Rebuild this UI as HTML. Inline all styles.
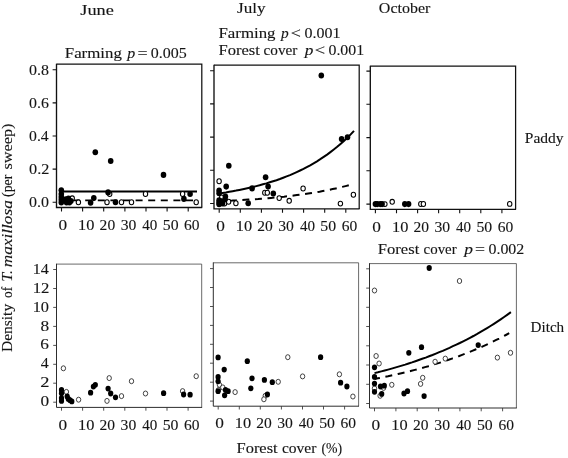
<!DOCTYPE html>
<html lang="en"><head><meta charset="utf-8"><title>Density of T. maxillosa vs forest cover</title>
<style>html,body{margin:0;padding:0;background:#fff;}svg{display:block;}text{font-family:"Liberation Serif", "DejaVu Serif", serif;font-size:14.6px;fill:#151515;stroke:#151515;stroke-width:0.12px;}</style></head><body>
<svg width="568" height="458" viewBox="0 0 568 458">
<rect width="568" height="458" fill="#fff"/>
<path d="M56.5,64.1 H201.8 V207.5" fill="none" stroke="#111" stroke-width="1.25"/>
<path d="M56.5,63.699999999999996 V207.5 H202.20000000000002" fill="none" stroke="#111" stroke-width="1.35"/>
<path d="M61.5,207.5 v3.9 M82.6,207.5 v3.9 M103.7,207.5 v3.9 M124.9,207.5 v3.9 M146.0,207.5 v3.9 M167.1,207.5 v3.9 M188.2,207.5 v3.9 M56.5,202.2 h-3.9 M56.5,169.1 h-3.9 M56.5,136.0 h-3.9 M56.5,102.9 h-3.9 M56.5,69.8 h-3.9 " fill="none" stroke="#111" stroke-width="1.1"/>
<path d="M214.0,65.2 H359.2 V208.9" fill="none" stroke="#111" stroke-width="1.25"/>
<path d="M214.0,64.8 V208.9 H359.59999999999997" fill="none" stroke="#111" stroke-width="1.35"/>
<path d="M219.2,208.9 v3.9 M240.3,208.9 v3.9 M261.4,208.9 v3.9 M282.5,208.9 v3.9 M303.6,208.9 v3.9 M324.7,208.9 v3.9 M345.8,208.9 v3.9 M214.0,203.5 h-3.9 M214.0,170.3 h-3.9 M214.0,137.1 h-3.9 M214.0,103.9 h-3.9 M214.0,70.7 h-3.9 " fill="none" stroke="#111" stroke-width="1.1"/>
<path d="M370.3,66.2 H515.6 V209.4" fill="none" stroke="#111" stroke-width="1.25"/>
<path d="M370.3,65.8 V209.4 H516.0" fill="none" stroke="#111" stroke-width="1.35"/>
<path d="M375.4,209.4 v3.9 M396.5,209.4 v3.9 M417.6,209.4 v3.9 M438.6,209.4 v3.9 M459.7,209.4 v3.9 M480.8,209.4 v3.9 M501.9,209.4 v3.9 M370.3,204.1 h-3.9 M370.3,170.8 h-3.9 M370.3,137.6 h-3.9 M370.3,104.3 h-3.9 M370.3,71.1 h-3.9 " fill="none" stroke="#111" stroke-width="1.1"/>
<path d="M56.5,264.1 H201.7 V407.4" fill="none" stroke="#444" stroke-width="0.8"/>
<path d="M56.5,263.70000000000005 V407.4 H202.1" fill="none" stroke="#222" stroke-width="0.95"/>
<path d="M61.5,407.4 v3.3 M82.6,407.4 v3.3 M103.7,407.4 v3.3 M124.8,407.4 v3.3 M145.9,407.4 v3.3 M167.0,407.4 v3.3 M188.1,407.4 v3.3 M56.5,402.2 h-3.3 M56.5,383.2 h-3.3 M56.5,364.3 h-3.3 M56.5,345.4 h-3.3 M56.5,326.4 h-3.3 M56.5,307.4 h-3.3 M56.5,288.5 h-3.3 M56.5,269.5 h-3.3 " fill="none" stroke="#333" stroke-width="0.85"/>
<path d="M213.3,262.8 H358.6 V406.2" fill="none" stroke="#444" stroke-width="0.8"/>
<path d="M213.3,262.40000000000003 V406.2 H359.0" fill="none" stroke="#222" stroke-width="0.95"/>
<path d="M218.2,406.2 v3.3 M239.3,406.2 v3.3 M260.3,406.2 v3.3 M281.4,406.2 v3.3 M302.5,406.2 v3.3 M323.5,406.2 v3.3 M344.6,406.2 v3.3 M213.3,401.1 h-3.3 M213.3,382.2 h-3.3 M213.3,363.2 h-3.3 M213.3,344.3 h-3.3 M213.3,325.4 h-3.3 M213.3,306.5 h-3.3 M213.3,287.5 h-3.3 M213.3,268.6 h-3.3 " fill="none" stroke="#333" stroke-width="0.85"/>
<path d="M369.5,263.6 H516.4 V408.0" fill="none" stroke="#444" stroke-width="0.8"/>
<path d="M369.5,263.20000000000005 V408.0 H516.8" fill="none" stroke="#222" stroke-width="0.95"/>
<path d="M374.5,408.0 v3.3 M395.9,408.0 v3.3 M417.2,408.0 v3.3 M438.6,408.0 v3.3 M459.9,408.0 v3.3 M481.2,408.0 v3.3 M502.6,408.0 v3.3 M369.5,403.5 h-3.3 M369.5,384.3 h-3.3 M369.5,365.0 h-3.3 M369.5,345.8 h-3.3 M369.5,326.5 h-3.3 M369.5,307.3 h-3.3 M369.5,288.1 h-3.3 M369.5,268.8 h-3.3 " fill="none" stroke="#333" stroke-width="0.85"/>
<text transform="translate(80.33,14.80) scale(1.253,1)">June</text>
<text transform="translate(237.06,12.70) scale(1.173,1)">July</text>
<text transform="translate(378.86,13.10) scale(1.096,1)">October</text>
<text transform="translate(64.75,58.40) scale(1.156,1)">Farming</text>
<text transform="translate(127.26,58.40) scale(1.092,1)" font-style="italic">p</text>
<text transform="translate(137.46,58.40) scale(1.230,1)">=</text>
<text transform="translate(150.77,58.40) scale(1.095,1)">0.005</text>
<text transform="translate(218.45,38.30) scale(1.154,1)">Farming</text>
<text transform="translate(281.12,38.30) scale(1.053,1)" font-style="italic">p</text>
<text transform="translate(290.76,38.30) scale(1.230,1)">&lt;</text>
<text transform="translate(304.47,38.30) scale(1.096,1)">0.001</text>
<text transform="translate(218.46,54.70) scale(1.135,1)">Forest</text>
<text transform="translate(263.49,54.70) scale(1.046,1)">cover</text>
<text transform="translate(304.64,54.70) scale(1.182,1)" font-style="italic">p</text>
<text transform="translate(314.74,54.70) scale(1.259,1)">&lt;</text>
<text transform="translate(328.47,54.70) scale(1.086,1)">0.001</text>
<text transform="translate(377.86,253.60) scale(1.135,1)">Forest</text>
<text transform="translate(423.60,253.60) scale(1.021,1)">cover</text>
<text transform="translate(464.25,253.60) scale(1.194,1)" font-style="italic">p</text>
<text transform="translate(475.07,253.60) scale(1.216,1)">=</text>
<text transform="translate(488.47,253.60) scale(1.092,1)">0.002</text>
<text transform="translate(524.87,143.40) scale(1.061,1)" font-size="15.2">Paddy</text>
<text transform="translate(530.58,331.80) scale(1.037,1)" font-size="15.2">Ditch</text>
<text transform="translate(236.56,452.90) scale(1.126,1)">Forest</text>
<text transform="translate(281.88,452.90) scale(1.065,1)">cover</text>
<text transform="translate(321.45,452.90) scale(0.946,1)">(%)</text>
<text transform="translate(11.90,351.91) rotate(-90) scale(1.059,1)">Density</text>
<text transform="translate(11.90,297.95) rotate(-90) scale(0.925,1)">of</text>
<text transform="translate(11.90,281.76) rotate(-90) scale(1.095,1)" font-style="italic">T.</text>
<text transform="translate(11.90,267.17) rotate(-90) scale(1.179,1)" font-style="italic">maxillosa</text>
<text transform="translate(11.90,196.95) rotate(-90) scale(0.946,1)">(per</text>
<text transform="translate(11.90,169.55) rotate(-90) scale(1.115,1)">sweep)</text>
<text transform="translate(58.47,230.40) scale(1.185,1)">0</text>
<text transform="translate(78.10,230.40) scale(1.121,1)">10</text>
<text transform="translate(99.62,230.40) scale(1.064,1)">20</text>
<text transform="translate(120.63,230.40) scale(1.072,1)">30</text>
<text transform="translate(142.28,230.40) scale(1.035,1)">40</text>
<text transform="translate(162.76,230.40) scale(1.080,1)">50</text>
<text transform="translate(184.10,230.40) scale(1.064,1)">60</text>
<text transform="translate(29.07,207.00) scale(1.094,1)">0.0</text>
<text transform="translate(29.06,173.90) scale(1.113,1)">0.2</text>
<text transform="translate(29.08,140.80) scale(1.076,1)">0.4</text>
<text transform="translate(29.07,107.70) scale(1.088,1)">0.6</text>
<text transform="translate(29.07,74.60) scale(1.094,1)">0.8</text>
<text transform="translate(216.17,231.30) scale(1.185,1)">0</text>
<text transform="translate(235.78,231.30) scale(1.121,1)">10</text>
<text transform="translate(257.28,231.30) scale(1.064,1)">20</text>
<text transform="translate(278.27,231.30) scale(1.072,1)">30</text>
<text transform="translate(299.90,231.30) scale(1.035,1)">40</text>
<text transform="translate(320.36,231.30) scale(1.080,1)">50</text>
<text transform="translate(341.68,231.30) scale(1.064,1)">60</text>
<text transform="translate(372.37,231.60) scale(1.185,1)">0</text>
<text transform="translate(391.96,231.60) scale(1.121,1)">10</text>
<text transform="translate(413.44,231.60) scale(1.064,1)">20</text>
<text transform="translate(434.41,231.60) scale(1.072,1)">30</text>
<text transform="translate(456.02,231.60) scale(1.035,1)">40</text>
<text transform="translate(476.46,231.60) scale(1.080,1)">50</text>
<text transform="translate(497.76,231.60) scale(1.064,1)">60</text>
<text transform="translate(58.47,429.60) scale(1.185,1)">0</text>
<text transform="translate(78.08,429.60) scale(1.121,1)">10</text>
<text transform="translate(99.58,429.60) scale(1.064,1)">20</text>
<text transform="translate(120.57,429.60) scale(1.072,1)">30</text>
<text transform="translate(142.20,429.60) scale(1.035,1)">40</text>
<text transform="translate(162.66,429.60) scale(1.080,1)">50</text>
<text transform="translate(183.98,429.60) scale(1.064,1)">60</text>
<text transform="translate(40.42,406.30) scale(1.185,1)">0</text>
<text transform="translate(40.26,387.35) scale(1.263,1)">2</text>
<text transform="translate(40.79,368.40) scale(1.085,1)">4</text>
<text transform="translate(40.31,349.45) scale(1.185,1)">6</text>
<text transform="translate(40.42,330.50) scale(1.185,1)">8</text>
<text transform="translate(32.68,311.55) scale(1.121,1)">10</text>
<text transform="translate(32.65,292.60) scale(1.147,1)">12</text>
<text transform="translate(32.71,273.65) scale(1.096,1)">14</text>
<text transform="translate(215.17,428.20) scale(1.185,1)">0</text>
<text transform="translate(234.75,428.20) scale(1.121,1)">10</text>
<text transform="translate(256.22,428.20) scale(1.064,1)">20</text>
<text transform="translate(277.18,428.20) scale(1.072,1)">30</text>
<text transform="translate(298.78,428.20) scale(1.035,1)">40</text>
<text transform="translate(319.21,428.20) scale(1.080,1)">50</text>
<text transform="translate(340.50,428.20) scale(1.064,1)">60</text>
<text transform="translate(371.47,430.40) scale(1.185,1)">0</text>
<text transform="translate(391.33,430.40) scale(1.121,1)">10</text>
<text transform="translate(413.08,430.40) scale(1.064,1)">20</text>
<text transform="translate(434.32,430.40) scale(1.072,1)">30</text>
<text transform="translate(456.20,430.40) scale(1.035,1)">40</text>
<text transform="translate(476.91,430.40) scale(1.080,1)">50</text>
<text transform="translate(498.48,430.40) scale(1.064,1)">60</text>
<path d="M61.3,191.5 H197" fill="none" stroke="#000" stroke-width="2.0"/>
<path d="M61.3,200.3 H194.5" fill="none" stroke="#000" stroke-width="1.8" stroke-dasharray="7,5.6" stroke-dashoffset="1.3"/>
<path d="M219.2,193.4 L222.6,192.9 L225.9,192.4 L229.3,191.8 L232.7,191.2 L236.1,190.6 L239.4,189.9 L242.8,189.2 L246.2,188.5 L249.5,187.8 L252.9,187.0 L256.3,186.1 L259.6,185.3 L263.0,184.3 L266.4,183.4 L269.8,182.3 L273.1,181.3 L276.5,180.2 L279.9,179.0 L283.2,177.7 L286.6,176.4 L290.0,175.1 L293.4,173.6 L296.7,172.1 L300.1,170.5 L303.5,168.9 L306.8,167.1 L310.2,165.3 L313.6,163.3 L317.0,161.3 L320.3,159.2 L323.7,156.9 L327.1,154.6 L330.4,152.1 L333.8,149.5 L337.2,146.8 L340.5,143.9 L343.9,140.9 L347.3,137.7 L350.7,134.4 L354.0,130.9" fill="none" stroke="#000" stroke-width="2.0"/>
<path d="M219.2,201.2 L222.4,201.0 L225.7,200.9 L228.9,200.7 L232.2,200.6 L235.4,200.4 L238.6,200.2 L241.9,200.0 L245.1,199.8 L248.3,199.6 L251.6,199.4 L254.8,199.2 L258.1,199.0 L261.3,198.7 L264.5,198.5 L267.8,198.2 L271.0,197.9 L274.3,197.6 L277.5,197.3 L280.7,197.0 L284.0,196.7 L287.2,196.3 L290.5,195.9 L293.7,195.5 L296.9,195.1 L300.2,194.7 L303.4,194.3 L306.6,193.8 L309.9,193.3 L313.1,192.8 L316.4,192.2 L319.6,191.7 L322.8,191.1 L326.1,190.5 L329.3,189.8 L332.6,189.1 L335.8,188.4 L339.0,187.7 L342.3,186.9 L345.5,186.1 L348.8,185.2" fill="none" stroke="#000" stroke-width="2.0" stroke-dasharray="7,5.6" stroke-dashoffset="2"/>
<path d="M374.5,373.1 L377.9,372.3 L381.3,371.4 L384.7,370.5 L388.1,369.6 L391.6,368.6 L395.0,367.6 L398.4,366.6 L401.8,365.6 L405.2,364.6 L408.6,363.5 L412.0,362.4 L415.4,361.2 L418.8,360.0 L422.2,358.8 L425.7,357.6 L429.1,356.3 L432.5,355.0 L435.9,353.6 L439.3,352.2 L442.7,350.8 L446.1,349.3 L449.5,347.8 L452.9,346.2 L456.4,344.6 L459.8,343.0 L463.2,341.3 L466.6,339.6 L470.0,337.8 L473.4,336.0 L476.8,334.1 L480.2,332.1 L483.6,330.2 L487.1,328.1 L490.5,326.0 L493.9,323.8 L497.3,321.6 L500.7,319.3 L504.1,317.0 L507.5,314.6 L510.9,312.1" fill="none" stroke="#000" stroke-width="2.0"/>
<path d="M374.5,379.0 L377.9,378.3 L381.2,377.7 L384.6,377.0 L388.0,376.3 L391.3,375.5 L394.7,374.8 L398.1,374.0 L401.4,373.2 L404.8,372.4 L408.2,371.6 L411.5,370.8 L414.9,369.9 L418.3,369.0 L421.7,368.1 L425.0,367.1 L428.4,366.2 L431.8,365.2 L435.1,364.1 L438.5,363.1 L441.9,362.0 L445.2,360.9 L448.6,359.8 L452.0,358.6 L455.3,357.4 L458.7,356.2 L462.1,354.9 L465.4,353.6 L468.8,352.3 L472.2,350.9 L475.5,349.5 L478.9,348.1 L482.3,346.6 L485.6,345.1 L489.0,343.5 L492.4,341.9 L495.7,340.2 L499.1,338.6 L502.5,336.8 L505.9,335.0 L509.2,333.2" fill="none" stroke="#000" stroke-width="2.0" stroke-dasharray="7,5.6" stroke-dashoffset="1.5"/>
<g fill="#fff" stroke="#000" stroke-width="1.05">
<ellipse cx="72.2" cy="198.3" rx="2.2" ry="2.45"/>
<ellipse cx="78.4" cy="202.3" rx="2.2" ry="2.45"/>
<ellipse cx="107" cy="202.2" rx="2.2" ry="2.45"/>
<ellipse cx="109.7" cy="194" rx="2.2" ry="2.45"/>
<ellipse cx="121.5" cy="202.2" rx="2.2" ry="2.45"/>
<ellipse cx="131.5" cy="202.2" rx="2.2" ry="2.45"/>
<ellipse cx="145.5" cy="194" rx="2.2" ry="2.45"/>
<ellipse cx="182.6" cy="194" rx="2.2" ry="2.45"/>
<ellipse cx="196.2" cy="202.2" rx="2.2" ry="2.45"/>
</g>
<g fill="#000">
<ellipse cx="61.3" cy="190.3" rx="2.8" ry="3.05"/>
<ellipse cx="61.3" cy="194" rx="2.8" ry="3.05"/>
<ellipse cx="61.3" cy="197" rx="2.8" ry="3.05"/>
<ellipse cx="61.3" cy="199.8" rx="2.8" ry="3.05"/>
<ellipse cx="61.3" cy="202.5" rx="2.8" ry="3.05"/>
<ellipse cx="65.8" cy="199.4" rx="2.8" ry="3.05"/>
<ellipse cx="66.6" cy="202.5" rx="2.8" ry="3.05"/>
<ellipse cx="68.4" cy="198.6" rx="2.8" ry="3.05"/>
<ellipse cx="69.4" cy="202.5" rx="2.8" ry="3.05"/>
<ellipse cx="70.9" cy="201" rx="2.8" ry="3.05"/>
<ellipse cx="95.3" cy="152.3" rx="2.8" ry="3.05"/>
<ellipse cx="110.7" cy="161" rx="2.8" ry="3.05"/>
<ellipse cx="90.6" cy="202.7" rx="2.8" ry="3.05"/>
<ellipse cx="93.8" cy="198.1" rx="2.8" ry="3.05"/>
<ellipse cx="108.1" cy="192.4" rx="2.8" ry="3.05"/>
<ellipse cx="115.5" cy="202.2" rx="2.8" ry="3.05"/>
<ellipse cx="163.5" cy="174.9" rx="2.8" ry="3.05"/>
<ellipse cx="190.1" cy="194" rx="2.8" ry="3.05"/>
<ellipse cx="183.9" cy="198.9" rx="2.8" ry="3.05"/>
</g>
<g fill="#fff" stroke="#000" stroke-width="1.05">
<ellipse cx="219.1" cy="181.2" rx="2.2" ry="2.45"/>
<ellipse cx="264.8" cy="192.7" rx="2.2" ry="2.45"/>
<ellipse cx="267.3" cy="192.7" rx="2.2" ry="2.45"/>
<ellipse cx="279.2" cy="198.1" rx="2.2" ry="2.45"/>
<ellipse cx="289.2" cy="200.8" rx="2.2" ry="2.45"/>
<ellipse cx="235.9" cy="203.2" rx="2.2" ry="2.45"/>
<ellipse cx="228.6" cy="201.7" rx="2.2" ry="2.45"/>
<ellipse cx="224.5" cy="203.5" rx="2.2" ry="2.45"/>
<ellipse cx="221.7" cy="197.5" rx="2.2" ry="2.45"/>
<ellipse cx="303.1" cy="188.5" rx="2.2" ry="2.45"/>
<ellipse cx="340.4" cy="203.6" rx="2.2" ry="2.45"/>
<ellipse cx="353.4" cy="194.7" rx="2.2" ry="2.45"/>
</g>
<g fill="#000">
<ellipse cx="228.8" cy="165.7" rx="2.8" ry="3.05"/>
<ellipse cx="226.2" cy="186.6" rx="2.8" ry="3.05"/>
<ellipse cx="219.1" cy="190.6" rx="2.8" ry="3.05"/>
<ellipse cx="219.1" cy="193.2" rx="2.8" ry="3.05"/>
<ellipse cx="265.6" cy="177.3" rx="2.8" ry="3.05"/>
<ellipse cx="252.1" cy="188.4" rx="2.8" ry="3.05"/>
<ellipse cx="268.1" cy="186.6" rx="2.8" ry="3.05"/>
<ellipse cx="273.3" cy="193.5" rx="2.8" ry="3.05"/>
<ellipse cx="248.2" cy="203.3" rx="2.8" ry="3.05"/>
<ellipse cx="219.1" cy="200.3" rx="2.8" ry="3.05"/>
<ellipse cx="219.1" cy="202.5" rx="2.8" ry="3.05"/>
<ellipse cx="219.1" cy="204.2" rx="2.8" ry="3.05"/>
<ellipse cx="225.4" cy="196.6" rx="2.8" ry="3.05"/>
<ellipse cx="225" cy="199.5" rx="2.8" ry="3.05"/>
<ellipse cx="221.3" cy="201.2" rx="2.8" ry="3.05"/>
<ellipse cx="222.5" cy="203.5" rx="2.8" ry="3.05"/>
<ellipse cx="321.3" cy="75.5" rx="2.8" ry="3.05"/>
<ellipse cx="341.6" cy="139.1" rx="2.8" ry="3.05"/>
<ellipse cx="347.5" cy="137.2" rx="2.8" ry="3.05"/>
</g>
<g fill="#fff" stroke="#000" stroke-width="1.05">
<ellipse cx="384.9" cy="204.1" rx="2.2" ry="2.45"/>
<ellipse cx="392.2" cy="201.8" rx="2.2" ry="2.45"/>
<ellipse cx="420.8" cy="204" rx="2.2" ry="2.45"/>
<ellipse cx="423.4" cy="204" rx="2.2" ry="2.45"/>
<ellipse cx="509.7" cy="203.9" rx="2.2" ry="2.45"/>
</g>
<g fill="#000">
<ellipse cx="375.4" cy="204.1" rx="2.8" ry="3.05"/>
<ellipse cx="377.2" cy="204.1" rx="2.8" ry="3.05"/>
<ellipse cx="380.3" cy="204.1" rx="2.8" ry="3.05"/>
<ellipse cx="382.1" cy="204.1" rx="2.8" ry="3.05"/>
<ellipse cx="404.8" cy="204.1" rx="2.8" ry="3.05"/>
<ellipse cx="408.6" cy="204.1" rx="2.8" ry="3.05"/>
</g>
<g fill="#fff" stroke="#222" stroke-width="0.85">
<ellipse cx="63.4" cy="368.3" rx="2.2" ry="2.5"/>
<ellipse cx="66.4" cy="391.9" rx="2.2" ry="2.5"/>
<ellipse cx="78.6" cy="399.7" rx="2.2" ry="2.5"/>
<ellipse cx="109.2" cy="378.1" rx="2.2" ry="2.5"/>
<ellipse cx="107" cy="400.9" rx="2.2" ry="2.5"/>
<ellipse cx="121.5" cy="396.1" rx="2.2" ry="2.5"/>
<ellipse cx="131.5" cy="381.2" rx="2.2" ry="2.5"/>
<ellipse cx="145.5" cy="393.5" rx="2.2" ry="2.5"/>
<ellipse cx="182.6" cy="391.1" rx="2.2" ry="2.5"/>
<ellipse cx="196.2" cy="376.2" rx="2.2" ry="2.5"/>
</g>
<g fill="#000">
<ellipse cx="61.5" cy="389.9" rx="2.6" ry="2.88"/>
<ellipse cx="61.5" cy="393.2" rx="2.6" ry="2.88"/>
<ellipse cx="61.5" cy="398.1" rx="2.6" ry="2.88"/>
<ellipse cx="61.5" cy="400.9" rx="2.6" ry="2.88"/>
<ellipse cx="67.2" cy="396.5" rx="2.6" ry="2.88"/>
<ellipse cx="68.3" cy="398.9" rx="2.6" ry="2.88"/>
<ellipse cx="70" cy="400.2" rx="2.6" ry="2.88"/>
<ellipse cx="71.8" cy="401.4" rx="2.6" ry="2.88"/>
<ellipse cx="90.6" cy="392.7" rx="2.6" ry="2.88"/>
<ellipse cx="93.4" cy="386.6" rx="2.6" ry="2.88"/>
<ellipse cx="95.3" cy="384.8" rx="2.6" ry="2.88"/>
<ellipse cx="108.1" cy="388.6" rx="2.6" ry="2.88"/>
<ellipse cx="110.7" cy="393.5" rx="2.6" ry="2.88"/>
<ellipse cx="115.5" cy="397.3" rx="2.6" ry="2.88"/>
<ellipse cx="163.6" cy="393.2" rx="2.6" ry="2.88"/>
<ellipse cx="183.6" cy="394.5" rx="2.6" ry="2.88"/>
<ellipse cx="190.1" cy="394.7" rx="2.6" ry="2.88"/>
</g>
<g fill="#fff" stroke="#222" stroke-width="0.85">
<ellipse cx="219.4" cy="384.8" rx="2.2" ry="2.5"/>
<ellipse cx="222.8" cy="387.4" rx="2.2" ry="2.5"/>
<ellipse cx="218.5" cy="390" rx="2.2" ry="2.5"/>
<ellipse cx="235.1" cy="392.1" rx="2.2" ry="2.5"/>
<ellipse cx="278.2" cy="381.8" rx="2.2" ry="2.5"/>
<ellipse cx="265.3" cy="395.8" rx="2.2" ry="2.5"/>
<ellipse cx="263.9" cy="399.3" rx="2.2" ry="2.5"/>
<ellipse cx="287.8" cy="357.2" rx="2.2" ry="2.5"/>
<ellipse cx="302.6" cy="376.4" rx="2.2" ry="2.5"/>
<ellipse cx="339.4" cy="374.3" rx="2.2" ry="2.5"/>
<ellipse cx="352.9" cy="396.5" rx="2.2" ry="2.5"/>
</g>
<g fill="#000">
<ellipse cx="218.1" cy="357.4" rx="2.6" ry="2.88"/>
<ellipse cx="224.2" cy="369.6" rx="2.6" ry="2.88"/>
<ellipse cx="218.1" cy="376.9" rx="2.6" ry="2.88"/>
<ellipse cx="218.1" cy="381.3" rx="2.6" ry="2.88"/>
<ellipse cx="218.1" cy="391.2" rx="2.6" ry="2.88"/>
<ellipse cx="225.5" cy="390" rx="2.6" ry="2.88"/>
<ellipse cx="228.1" cy="391.2" rx="2.6" ry="2.88"/>
<ellipse cx="224.6" cy="395.3" rx="2.6" ry="2.88"/>
<ellipse cx="247.3" cy="361.2" rx="2.6" ry="2.88"/>
<ellipse cx="252" cy="378.3" rx="2.6" ry="2.88"/>
<ellipse cx="250.8" cy="388.3" rx="2.6" ry="2.88"/>
<ellipse cx="264.4" cy="379.9" rx="2.6" ry="2.88"/>
<ellipse cx="272.3" cy="382.2" rx="2.6" ry="2.88"/>
<ellipse cx="267.4" cy="394.4" rx="2.6" ry="2.88"/>
<ellipse cx="320.6" cy="357.2" rx="2.6" ry="2.88"/>
<ellipse cx="340.6" cy="382.7" rx="2.6" ry="2.88"/>
<ellipse cx="346.9" cy="386.5" rx="2.6" ry="2.88"/>
</g>
<g fill="#fff" stroke="#222" stroke-width="0.85">
<ellipse cx="374.5" cy="290.5" rx="2.2" ry="2.5"/>
<ellipse cx="376.1" cy="356" rx="2.2" ry="2.5"/>
<ellipse cx="379.1" cy="363.5" rx="2.2" ry="2.5"/>
<ellipse cx="374.5" cy="388.3" rx="2.2" ry="2.5"/>
<ellipse cx="383.6" cy="387.9" rx="2.2" ry="2.5"/>
<ellipse cx="380.1" cy="395.8" rx="2.2" ry="2.5"/>
<ellipse cx="391.8" cy="384.8" rx="2.2" ry="2.5"/>
<ellipse cx="420.6" cy="383.9" rx="2.2" ry="2.5"/>
<ellipse cx="422.7" cy="377.8" rx="2.2" ry="2.5"/>
<ellipse cx="435.1" cy="361.7" rx="2.2" ry="2.5"/>
<ellipse cx="459.5" cy="281" rx="2.2" ry="2.5"/>
<ellipse cx="445.3" cy="358.6" rx="2.2" ry="2.5"/>
<ellipse cx="497.4" cy="357.6" rx="2.2" ry="2.5"/>
<ellipse cx="510.5" cy="352.8" rx="2.2" ry="2.5"/>
</g>
<g fill="#000">
<ellipse cx="374.5" cy="367.3" rx="2.6" ry="2.88"/>
<ellipse cx="374.5" cy="376.9" rx="2.6" ry="2.88"/>
<ellipse cx="374.5" cy="383.6" rx="2.6" ry="2.88"/>
<ellipse cx="374.5" cy="391.8" rx="2.6" ry="2.88"/>
<ellipse cx="380.5" cy="386.5" rx="2.6" ry="2.88"/>
<ellipse cx="384.3" cy="385.7" rx="2.6" ry="2.88"/>
<ellipse cx="381.7" cy="393.9" rx="2.6" ry="2.88"/>
<ellipse cx="404" cy="393.5" rx="2.6" ry="2.88"/>
<ellipse cx="407.5" cy="391.2" rx="2.6" ry="2.88"/>
<ellipse cx="408.8" cy="352.8" rx="2.6" ry="2.88"/>
<ellipse cx="421.5" cy="347.2" rx="2.6" ry="2.88"/>
<ellipse cx="424.1" cy="396.1" rx="2.6" ry="2.88"/>
<ellipse cx="429.2" cy="268" rx="2.6" ry="2.88"/>
<ellipse cx="478.2" cy="345.1" rx="2.6" ry="2.88"/>
</g>
</svg></body></html>
